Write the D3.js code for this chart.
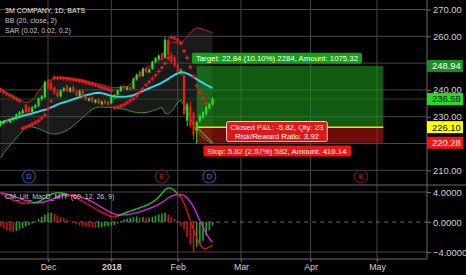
<!DOCTYPE html>
<meta charset="utf-8">
<style>
body { margin: 0; background: #000; }
svg { display: block; font-family: "Liberation Sans", Arial, sans-serif; }
</style>
<svg width="466" height="275"></svg>
<script src="https://cdn.jsdelivr.net/npm/d3@7"></script>
<script>

// daily bars, 2017-11-09 .. 2018-02-16
var open  = [226.9,227.6,228.5,227.9,228.8,229.4,230.6,231.2,234.3,233.4, 231.8,233.4,234.0,236.5,237.3,243.2,242.6,240.8,239.2,237.6,
             239.8,241.6,239.4,241.0,239.2,237.8,239.8,237.6,236.0,237.2, 235.3,236.6,234.6,236.0,235.6,235.0,237.2,238.2,239.6,241.4,
             240.2,241.0,240.5,244.0,246.8,245.2,248.2,246.6,247.8,250.5, 251.4,253.5,252.0,258.7,253.0,252.2,249.4,246.3,245.5,228.5,
             233.6,231.5,224.6,228.5,229.7,231.0,233.2,234.6];
var high  = [228.6,228.8,229.0,229.4,230.0,231.2,232.1,232.9,234.8,233.9, 233.9,234.8,237.2,238.1,243.4,244.1,243.6,241.5,240.0,240.1,
             241.0,242.0,241.2,241.8,239.8,240.0,240.1,237.9,237.2,237.5, 236.6,236.9,236.0,236.3,235.9,237.7,238.4,240.1,241.6,241.9,
             241.4,241.3,244.6,246.0,247.4,248.4,248.7,248.0,250.9,252.2, 253.2,254.0,259.8,259.6,254.2,252.9,250.0,248.1,246.5,235.2,
             235.8,232.0,228.3,230.9,232.0,234.1,235.1,237.3];
var low   = [226.3,227.0,227.4,227.6,228.3,229.0,230.1,230.8,231.2,231.3, 231.4,233.0,233.7,236.0,237.0,240.3,239.6,238.4,237.0,237.2,
             239.3,239.0,239.0,238.8,237.6,237.4,236.8,235.9,235.7,235.2, 235.0,234.7,234.3,234.5,234.1,234.8,236.8,238.0,239.3,240.2,
             239.8,239.8,240.3,243.6,244.6,244.9,246.2,246.2,247.5,250.0, 251.0,250.9,251.8,252.2,250.0,248.6,246.2,245.6,230.5,226.5,
             225.8,221.3,219.9,227.8,229.2,230.3,232.6,234.2];
var close = [227.8,228.2,227.9,229.0,229.6,230.8,231.7,232.3,231.6,231.9, 233.5,234.2,236.8,237.6,242.9,240.8,240.3,238.8,237.5,239.8,
             240.6,239.6,240.7,239.2,238.0,239.6,237.2,236.4,236.8,235.6, 236.2,235.0,235.7,234.9,234.4,237.3,238.0,239.8,241.2,240.6,
             241.0,240.2,244.2,245.6,245.0,248.0,246.6,247.6,250.6,251.8, 252.8,251.4,258.6,253.0,250.5,249.0,246.8,247.4,231.0,234.5,
             226.6,223.0,227.9,230.3,231.6,233.6,234.7,236.58];

var bbUpper = [240.3,239.6,239.0,238.3,237.7,237.0,236.3,235.7,235.3,235.5, 236.2,237.6,239.5,241.0,242.5,243.2,243.8,244.2,244.5,244.6,
               244.7,244.6,244.5,244.3,244.1,243.9,243.7,243.4,243.1,242.8, 242.5,242.3,242.0,241.7,241.2,240.9,240.8,240.9,241.0,241.1,
               241.3,242.0,243.3,244.6,246.0,247.2,248.0,248.8,249.5,250.2, 250.8,251.5,255.5,257.2,257.8,257.8,257.7,257.0,258.8,260.0,
               261.2,262.5,263.2,263.0,262.6,262.2,261.8,261.4];
var bbBasis = [227.7,228.1,228.5,228.9,229.2,229.6,229.9,230.3,230.6,230.9, 231.2,231.6,231.9,232.3,232.6,232.9,233.5,234.0,234.6,235.0,
               235.4,235.7,236.1,236.5,236.9,237.3,237.6,238.0,238.3,238.6, 238.8,238.9,238.8,238.5,238.1,237.8,237.5,237.4,237.4,237.4,
               237.5,237.7,238.0,238.5,239.1,239.6,240.1,240.6,241.1,241.6, 242.1,242.7,243.4,244.1,244.9,245.6,246.2,246.6,246.5,246.1,
               245.5,244.8,244.0,243.3,242.6,241.9,241.3,240.7];
var bbLower = [214.5,216.6,218.0,219.5,220.7,222.2,223.5,224.9,225.9,226.3, 226.2,225.9,225.6,225.1,224.5,224.0,223.6,223.5,223.6,224.0,
               224.4,224.9,225.7,226.6,227.6,228.6,229.7,230.8,231.9,232.8, 233.3,233.6,233.6,233.5,233.5,233.4,233.6,233.2,233.0,232.8,
               232.5,232.1,231.8,231.6,231.5,231.5,231.6,231.8,232.2,232.6, 233.0,233.5,231.3,231.0,232.0,233.4,235.5,236.2,234.2,232.0,
               229.6,226.7,224.6,223.4,222.4,221.4,220.6,219.8];
var sar = [240.0,239.3,238.6,237.9,237.3,236.6,236.0,225.7,226.1,226.6, 227.2,227.8,228.5,229.5,230.6,233.0,235.8,244.6,244.5,244.4,
           244.3,244.2,244.0,243.8,243.6,243.4,243.1,242.8,242.5,242.2, 241.8,241.4,241.0,240.6,240.2,239.8,233.3,233.5,234.0,234.5,
           235.2,236.0,236.8,237.8,239.0,240.4,241.8,243.0,244.2,245.5, 246.9,248.3,249.9,251.8,259.6,259.3,258.6,257.5,254.5,252.0,
           248.5,245.0,241.6,239.0,236.8,235.0,null,null];

var macd   = [3.85,3.6,3.35,3.1,2.9,2.75,2.6,2.5,2.5,2.5, 2.55,2.6,2.7,2.9,3.2,3.5,3.7,3.85,3.9,3.9,
              3.8,3.7,3.55,3.35,3.15,2.95,2.75,2.5,2.25,2.0, 1.75,1.5,1.3,1.1,0.9,0.7,0.65,0.8,1.0,1.15,
              1.3,1.45,1.6,1.75,1.9,2.05,2.2,2.4,2.65,2.95, 3.3,3.8,4.3,4.55,4.5,4.2,3.75,3.3,2.5,1.4,
              0.2,-1.0,-2.1,-3.0,-3.5,-3.55,-3.35,-3.05];
var signal = [3.9,3.82,3.72,3.6,3.45,3.3,3.15,3.0,2.85,2.7, 2.6,2.55,2.55,2.6,2.7,2.85,3.0,3.15,3.3,3.45,
              3.55,3.6,3.6,3.55,3.5,3.4,3.25,3.1,2.9,2.7, 2.45,2.2,1.95,1.7,1.45,1.25,1.05,0.95,0.93,0.95,
              1.0,1.05,1.15,1.25,1.35,1.5,1.65,1.8,1.95,2.15, 2.35,2.6,2.9,3.2,3.45,3.6,3.65,3.65,3.55,3.2,
              2.7,2.0,1.1,0.2,-0.7,-1.5,-2.2,-2.7];
var hist   = [-0.6,-0.9,-1.1,-1.2,-1.3,-1.2,-1.0,-0.8,-0.6,-0.4, -0.2,0.1,0.4,0.7,1.0,1.2,1.25,1.1,0.9,0.7,
              0.5,0.3,0.1,-0.1,-0.3,-0.45,-0.55,-0.65,-0.7,-0.75, -0.8,-0.75,-0.7,-0.6,-0.55,-0.5,-0.4,-0.2,0.1,0.3,
              0.45,0.55,0.65,0.75,0.6,0.65,0.55,0.6,0.7,0.85, 1.0,1.15,1.25,1.0,0.7,0.4,0.1,-0.5,-1.0,-2.0,
              -3.0,-4.0,-3.3,-3.0,-2.5,-1.8,-1.1,-0.5];

// bar index of the month ticks (future bars counted as weekdays)
var timeLabels = ["Dec", "2018", "Feb", "Mar", "Apr", "May"];
var timeBars   = [15, 35, 56, 76, 98, 119];
var priceTicks = [210, 220, 230, 240, 250, 260, 270];
var macdTicks  = [-4, 0, 4];

var eventLabels = ["D", "E", "D", "E"];
var eventBars   = [9, 51, 66, 114];

var lastPrice = 236.58, entryPrice = 226.10, targetPrice = 248.94, stopPrice = 220.28;
var posStart = 62, posEnd = 121, stopBar = 67;
var targetText = "Target: 22.84 (10.10%) 2284, Amount: 1075.32";
var closedText = ["Closed P&L: -5.82, Qty: 23", "Risk/Reward Ratio: 3.92"];
var stopText = "Stop: 5.82 (2.57%) 582, Amount: 416.14";
var legend = ["3M COMPANY, 1D, BATS", "BB (20, close, 2)", "SAR (0.02, 0.02, 0.2)"];
var macdTitle = "CM_Ult_MacD_MTF (60, 12, 26, 9)";

var svg = d3.select("svg");
var axisX = 427;
var bars = d3.range(close.length);

var x = d3.scaleLinear().domain([15, 119]).range([48, 377]);
var y = d3.scaleLinear().domain([210, 270]).range([170.3, 9.5]);
var ym = d3.scaleLinear().domain([-4, 4]).range([252, 192]);

var up = "#1ee61e", down = "#f01a1a", grid = "#474747";

svg.append("rect").attr("width", 466).attr("height", 275).attr("fill", "#000");

// bollinger fill
svg.append("path")
    .datum(bars)
    .attr("fill", "#1a1a1a")
    .attr("d", d3.area().x(function(i) { return x(i); })
        .y0(function(i) { return y(bbLower[i]); })
        .y1(function(i) { return y(bbUpper[i]); }));

// grid
svg.append("g").selectAll("line").data(priceTicks).join("line")
    .attr("x1", 0).attr("x2", axisX)
    .attr("y1", function(d) { return y(d); }).attr("y2", function(d) { return y(d); })
    .attr("stroke", grid);
svg.append("g").selectAll("line").data(timeBars).join("line")
    .attr("x1", function(d) { return x(d); }).attr("x2", function(d) { return x(d); })
    .attr("y1", 0).attr("y2", 261)
    .attr("stroke", grid);
svg.append("g").selectAll("line").data(macdTicks).join("line")
    .attr("x1", 0).attr("x2", axisX)
    .attr("y1", function(d) { return ym(d); }).attr("y2", function(d) { return ym(d); })
    .attr("stroke", function(d) { return d === 0 ? "#6a6a6a" : grid; })
    .attr("stroke-dasharray", function(d) { return d === 0 ? "4,4" : null; });

// last price line
svg.append("line")
    .attr("x1", 0).attr("x2", axisX)
    .attr("y1", y(lastPrice)).attr("y2", y(lastPrice))
    .attr("stroke", "#0b550b");

// long position zones
svg.append("rect")
    .attr("x", x(posStart)).attr("width", x(posEnd) - x(posStart))
    .attr("y", y(targetPrice)).attr("height", y(entryPrice) - y(targetPrice))
    .attr("fill", "rgba(30,150,30,0.6)");
svg.append("rect")
    .attr("x", x(posStart)).attr("width", x(posEnd) - x(posStart))
    .attr("y", y(entryPrice)).attr("height", y(stopPrice) - y(entryPrice))
    .attr("fill", "rgba(200,20,20,0.55)");

// bollinger lines
function bandLine(arr, color, w) {
  svg.append("path").datum(bars)
      .attr("fill", "none").attr("stroke", color).attr("stroke-width", w)
      .attr("d", d3.line().x(function(i) { return x(i); }).y(function(i) { return y(arr[i]); }));
}
bandLine(bbUpper, "#c81e1e", 1);
bandLine(bbLower, "#1fa01f", 1);
bandLine(bbBasis, "#2fd5e8", 2);

// candles
var candle = svg.append("g").selectAll("g").data(bars).join("g");
candle.append("line")
    .attr("x1", function(i) { return x(i); }).attr("x2", function(i) { return x(i); })
    .attr("y1", function(i) { return y(high[i]); }).attr("y2", function(i) { return y(low[i]); })
    .attr("stroke", function(i) { return close[i] >= open[i] ? up : down; });
candle.append("rect")
    .attr("x", function(i) { return x(i) - 1.1; }).attr("width", 2.2)
    .attr("y", function(i) { return y(Math.max(open[i], close[i])); })
    .attr("height", function(i) { return Math.max(1, Math.abs(y(open[i]) - y(close[i]))); })
    .attr("fill", function(i) { return close[i] >= open[i] ? up : down; });

// parabolic SAR
svg.append("g").selectAll("path").data(bars.filter(function(i) { return sar[i] != null; })).join("path")
    .attr("transform", function(i) { return "translate(" + x(i) + "," + y(sar[i]) + ")"; })
    .attr("d", "M-2,0H2M0,-2V2")
    .attr("stroke", down).attr("stroke-width", 1.4);

// entry line and trade path
svg.append("line")
    .attr("x1", x(posStart)).attr("x2", x(posEnd))
    .attr("y1", y(entryPrice)).attr("y2", y(entryPrice))
    .attr("stroke", "#e6e600").attr("stroke-width", 1.5);
svg.append("line")
    .attr("x1", x(posStart)).attr("x2", x(stopBar))
    .attr("y1", y(entryPrice)).attr("y2", y(stopPrice))
    .attr("stroke", "#8c8c1e").attr("stroke-width", 1.2);

// position labels
var labelCx = x(posStart) + (x(posEnd) - x(posStart)) * 0.43;
function boxLabel(lines, cy, fill, border) {
  var g = svg.append("g");
  var rect = g.append("rect").attr("fill", fill).attr("rx", 2);
  var t = g.append("text").attr("fill", "#fff").attr("font-size", 7.8).attr("text-anchor", "middle");
  lines.forEach(function(s, k) {
    t.append("tspan").attr("x", labelCx).attr("y", cy + 2.8 + (k - (lines.length - 1) / 2) * 9).text(s);
  });
  var bb = t.node().getBBox();
  rect.attr("x", bb.x - 4).attr("y", cy - lines.length * 4.5 - 1)
      .attr("width", bb.width + 8).attr("height", lines.length * 9 + 2);
  if (border) rect.attr("stroke", "#fff").attr("stroke-width", 0.8);
}
boxLabel([targetText], 58.3, "#16a016");
boxLabel(closedText, 131.5, "#e01818", true);
boxLabel([stopText], 151, "#ee1414");

// earnings / dividend markers
var ev = svg.append("g").selectAll("g").data(d3.range(eventBars.length)).join("g")
    .attr("transform", function(k) { return "translate(" + x(eventBars[k]) + ",176.5)"; });
ev.append("circle").attr("r", 6.5).attr("fill", "none").attr("stroke-width", 1.2)
    .attr("stroke", function(k) { return eventLabels[k] === "E" ? "#6b1c1c" : "#1f4e8a"; });
ev.append("text").attr("text-anchor", "middle").attr("y", 2.6).attr("font-size", 7.5)
    .attr("fill", function(k) { return eventLabels[k] === "E" ? "#b83232" : "#3d84d6"; })
    .text(function(k) { return eventLabels[k]; });

// MACD histogram
svg.append("g").selectAll("rect").data(bars).join("rect")
    .attr("x", function(i) { return x(i) - 0.8; }).attr("width", 1.6)
    .attr("y", function(i) { return Math.min(ym(hist[i]), ym(0)); })
    .attr("height", function(i) { return Math.abs(ym(hist[i]) - ym(0)); })
    .attr("fill", function(i) { return i > 0 && hist[i] > hist[i - 1] ? "#1fa81f" : "#cc1414"; });

// signal + macd lines
svg.append("path").datum(bars)
    .attr("fill", "none").attr("stroke", "#e020e0").attr("stroke-width", 1.4)
    .attr("d", d3.line().x(function(i) { return x(i); }).y(function(i) { return ym(signal[i]); }));
svg.append("g").selectAll("line").data(bars.slice(1)).join("line")
    .attr("x1", function(i) { return x(i - 1); }).attr("x2", function(i) { return x(i); })
    .attr("y1", function(i) { return ym(macd[i - 1]); }).attr("y2", function(i) { return ym(macd[i]); })
    .attr("stroke", function(i) { return macd[i] >= signal[i] ? "#1ec81e" : "#d81414"; })
    .attr("stroke-width", 1.4);

// pane borders
svg.append("line").attr("x1", 0).attr("x2", 466).attr("y1", 185).attr("y2", 185).attr("stroke", "#6a6a6a");
svg.append("line").attr("x1", 0).attr("x2", axisX).attr("y1", 259).attr("y2", 259).attr("stroke", "#6a6a6a");
svg.append("line").attr("x1", axisX).attr("x2", axisX).attr("y1", 0).attr("y2", 259).attr("stroke", "#6a6a6a");

// price scale labels (tags) sit over the regular tick labels
var tags = [
  {v: targetPrice, bg: "#1e8c1e", fg: "#fff"},
  {v: lastPrice, bg: "#1ee01e", fg: "#000"},
  {v: entryPrice, bg: "#ffff00", fg: "#000"},
  {v: stopPrice, bg: "#ff1010", fg: "#fff"}
];
function hiddenByTag(d) {
  return tags.some(function(t) { return Math.abs(y(t.v) - y(d)) < 8; });
}

// axes
var pAxis = svg.append("g").attr("transform", "translate(" + axisX + ",0)")
    .call(d3.axisRight(y).tickValues(priceTicks).tickFormat(d3.format(".2f")).tickSize(4).tickPadding(2));
var mAxis = svg.append("g").attr("transform", "translate(" + axisX + ",0)")
    .call(d3.axisRight(ym).tickValues(macdTicks).tickFormat(d3.format(".4f")).tickSize(4).tickPadding(2));
var tAxis = svg.append("g").attr("transform", "translate(0,259)")
    .call(d3.axisBottom(x).tickValues(timeBars).tickFormat(function(d, k) { return timeLabels[k]; })
        .tickSize(3).tickPadding(2));
[pAxis, mAxis, tAxis].forEach(function(a) {
  a.select(".domain").remove();
  a.selectAll("line").attr("stroke", "#6a6a6a");
  a.selectAll("text").attr("fill", "#d0d0d0").attr("font-family", null);
});
pAxis.selectAll("text").attr("font-size", 9.4);
pAxis.selectAll(".tick").filter(hiddenByTag).select("text").remove();
mAxis.selectAll("text").attr("font-size", 9.4);
tAxis.selectAll("text").attr("font-size", 8.8)
    .attr("font-weight", function(d, k) { return timeLabels[k] === "2018" ? "bold" : null; });

var tag = svg.append("g").selectAll("g").data(tags).join("g")
    .attr("transform", function(d) { return "translate(" + axisX + "," + y(d.v) + ")"; });
tag.append("rect").attr("x", 0).attr("y", -6).attr("width", 36).attr("height", 12)
    .attr("fill", function(d) { return d.bg; });
tag.append("text").attr("x", 5).attr("y", 3.4).attr("font-size", 9.4)
    .attr("fill", function(d) { return d.fg; })
    .text(function(d) { return d3.format(".2f")(d.v); });

// legends
svg.append("g").selectAll("text").data(legend).join("text")
    .attr("x", 5).attr("y", function(d, k) { return 12.5 + k * 10; })
    .attr("font-size", 7).attr("fill", function(d, k) { return k === 0 ? "#eee" : "#c8c8c8"; })
    .text(function(d) { return d; });
svg.append("text").attr("x", 5).attr("y", 198.5).attr("font-size", 7).attr("fill", "#c8c8c8").text(macdTitle);

</script>
